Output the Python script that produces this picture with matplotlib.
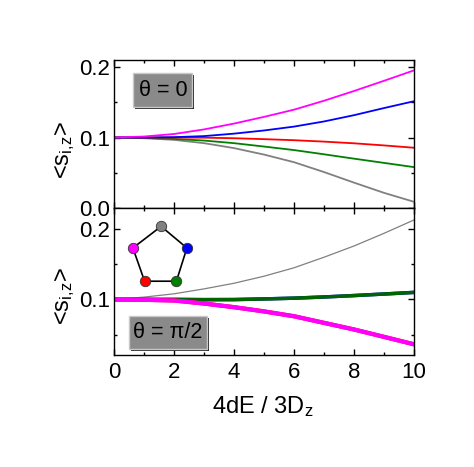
import numpy as np
import matplotlib
matplotlib.use("Agg")
import matplotlib.pyplot as plt
from matplotlib.patches import Rectangle
from matplotlib.ticker import MultipleLocator

plt.rcParams["font.family"] = ["Liberation Sans", "DejaVu Sans"]
plt.rcParams["mathtext.default"] = "regular"

# x axis: 4dE / 3D_z
x = [0, 1, 2, 3, 4, 5, 6, 7, 8, 9, 10]

# theta = 0 panel
top_magenta = [0.100, 0.1014, 0.105, 0.1115, 0.1198, 0.1293, 0.1395, 0.1522, 0.1660, 0.1805, 0.1953]
top_blue    = [0.100, 0.1000, 0.1005, 0.102, 0.1055, 0.1100, 0.1155, 0.1228, 0.1317, 0.1418, 0.1515]
top_red     = [0.100, 0.1000, 0.1000, 0.0998, 0.0990, 0.0977, 0.0962, 0.0942, 0.0918, 0.0888, 0.0855]
top_green   = [0.100, 0.0995, 0.0980, 0.0957, 0.0920, 0.0872, 0.0822, 0.0762, 0.0700, 0.0640, 0.0580]
top_gray    = [0.100, 0.0990, 0.0967, 0.0920, 0.0850, 0.0758, 0.0650, 0.0510, 0.0360, 0.0215, 0.0088]

# theta = pi/2 panel (blue under green, red under magenta)
bot_gray    = [0.100, 0.1033, 0.108, 0.115, 0.123, 0.1330, 0.1450, 0.1600, 0.1760, 0.1940, 0.2130]
bot_green   = [0.100, 0.1000, 0.100, 0.0997, 0.0998, 0.1007, 0.1018, 0.1035, 0.1055, 0.1077, 0.1100]
bot_magenta = [0.100, 0.0995, 0.0985, 0.0942, 0.0890, 0.0830, 0.0761, 0.0667, 0.0573, 0.0468, 0.0362]

# pentagon sites (axes fraction of lower panel)
site_colors = ["#808080", "#0000ff", "#008000", "#ff0000", "#ff00ff"]
site_x = [0.157, 0.243, 0.208, 0.102, 0.063]
site_y = [0.875, 0.728, 0.502, 0.502, 0.728]

W, H = 474, 467
fig = plt.figure(figsize=(W / 100, H / 100), dpi=100)
ax_top = fig.add_axes([114 / W, 1 - 208 / H, 300 / W, 148 / H])
ax_bot = fig.add_axes([114 / W, 1 - 355 / H, 300 / W, 147 / H], sharex=ax_top)


def style_axes(ax):
    ax.tick_params(which="both", direction="in", top=True, right=True,
                   labelsize=16, width=1.0)
    ax.tick_params(which="major", length=4.5)
    ax.tick_params(which="minor", length=2.5)
    ax.tick_params(axis="x", pad=5)
    ax.tick_params(axis="y", pad=3)
    for s in ax.spines.values():
        s.set_linewidth(1.0)
    ax.xaxis.set_major_locator(MultipleLocator(2))
    ax.xaxis.set_minor_locator(MultipleLocator(1))
    ax.yaxis.set_major_locator(MultipleLocator(0.1))
    ax.yaxis.set_minor_locator(MultipleLocator(0.05))


def label_box(ax, cx, cy, w, h, text):
    # dark shadow then grey box, sizes in axes fraction
    dx, dy = 2 / 300, 2 / 148
    ax.add_patch(Rectangle((cx - w / 2 + dx, cy - h / 2 - dy), w, h,
                           transform=ax.transAxes, fc="#222222", ec="none", zorder=4))
    ax.add_patch(Rectangle((cx - w / 2, cy - h / 2), w, h,
                           transform=ax.transAxes, fc="#8a8a8a", ec="#c8c8c8",
                           lw=1.0, zorder=5))
    ax.text(cx, cy, text, transform=ax.transAxes, ha="center", va="center",
            fontsize=15.5, zorder=6)


# ---- theta = 0 ----
lw = 1.3
ax_top.plot(x, top_gray, color="#808080", lw=lw)
ax_top.plot(x, top_green, color="#008000", lw=lw)
ax_top.plot(x, top_red, color="#ff0000", lw=lw)
ax_top.plot(x, top_blue, color="#0000ff", lw=lw)
ax_top.plot(x, top_magenta, color="#ff00ff", lw=lw)
ax_top.set_xlim(0, 10)
ax_top.set_ylim(0, 0.21)
style_axes(ax_top)
ax_top.tick_params(labelbottom=False)
label_box(ax_top, 0.163, 0.797, 0.197, 0.225, "θ = 0")

# ---- theta = pi/2 ----
ax_bot.plot(x, bot_gray, color="#808080", lw=0.9)
ax_bot.plot(x, bot_green, color="#0000ff", lw=2.5)
ax_bot.plot(x, bot_green, color="#006400", lw=2.5)
ax_bot.plot(x, bot_magenta, color="#ff0000", lw=3.0)
ax_bot.plot(x, bot_magenta, color="#ff00ff", lw=3.0)
ax_bot.set_ylim(0.021, 0.23)
style_axes(ax_bot)
ax_bot.yaxis.set_major_formatter(plt.FuncFormatter(lambda v, p: f"{v:.1f}"))
label_box(ax_bot, 0.180, 0.153, 0.262, 0.220, "θ = π/2")

# pentagon inset
ring = list(range(len(site_x))) + [0]
ax_bot.plot([site_x[i] for i in ring], [site_y[i] for i in ring],
            color="black", lw=1.2, transform=ax_bot.transAxes, zorder=6)
for sx, sy, c in zip(site_x, site_y, site_colors):
    ax_bot.plot(sx, sy, "o", ms=7.5, mfc=c, mec="#333333", mew=0.6,
                transform=ax_bot.transAxes, zorder=7)

# axis labels
ylab = "<s$_{i{,}z}$>"
fig.text(65 / W, 1 - 150 / H, ylab, rotation=90, ha="center",
         va="center", fontsize=17)
fig.text(65 / W, 1 - 296 / H, ylab, rotation=90, ha="center",
         va="center", fontsize=17)
fig.text(263 / W, 1 - 407 / H, "4dE / 3D$_z$", ha="center", va="center",
         fontsize=17)

fig.savefig("out.png", dpi=100)
